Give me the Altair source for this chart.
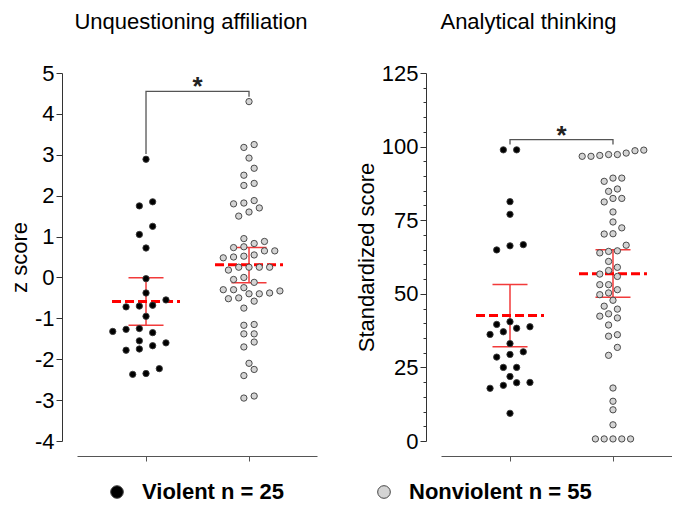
import altair as alt
import pandas as pd

# ---------------- data ----------------
groups = ["Violent n = 25", "Nonviolent n = 55"]
group_pos = [0, 1]
bracket_x = [0, 0, 1, 1]

# Unquestioning affiliation (z score)
ua_violent = [2.89, 1.85, 1.75, 1.25, 1.05, 0.72, -0.03, -0.38, -0.55, -0.70,
              -0.72, -0.68, -0.95, -1.25, -1.27, -1.32, -1.35, -1.55, -1.60,
              -1.67, -1.75, -1.78, -2.23, -2.35, -2.37]
ua_nonviolent = [4.30, 3.25, 3.18, 2.92, 2.67, 2.50, 2.30, 2.25, 1.88, 1.82,
                 1.80, 1.70, 1.60, 1.50, 0.95, 0.88, 0.83, 0.75, 0.73, 0.65,
                 0.65, 0.55, 0.52, 0.50, 0.48, 0.25, 0.25, 0.25, 0.25, 0.18,
                 0.00, -0.05, -0.12, -0.25, -0.30, -0.30, -0.33, -0.38, -0.40,
                 -0.40, -0.50, -0.52, -0.58, -0.75, -1.15, -1.17, -1.38, -1.38,
                 -1.58, -1.70, -2.10, -2.25, -2.40, -2.90, -2.95]
ua_mean = [-0.59, 0.31]
ua_low = [-1.17, -0.13]
ua_high = [-0.01, 0.73]
ua_bracket = [3.02, 4.55, 4.55, 4.42]

# Analytical thinking (standardized score)
at_violent = [98.9, 98.9, 81.3, 77.0, 66.7, 66.3, 64.9, 40.5, 39.6, 38.8, 38.3,
              37.1, 36.2, 33.1, 30.3, 29.4, 28.5, 25.0, 25.0, 21.9, 19.9, 19.8,
              18.9, 17.9, 9.4]
at_nonviolent = [98.8, 98.6, 97.8, 97.3, 97.3, 97.0, 96.7, 96.7, 89.3, 89.3,
                 88.2, 85.6, 84.8, 82.4, 82.4, 81.2, 77.8, 74.4, 72.4, 70.4,
                 70.3, 66.5, 64.6, 64.4, 63.9, 61.0, 59.0, 57.9, 56.7, 55.9,
                 53.1, 53.1, 51.4, 50.3, 49.7, 47.8, 45.8, 44.8, 43.2, 42.4,
                 41.8, 39.4, 36.1, 35.6, 31.8, 29.1, 18.0, 13.5, 10.6, 5.5,
                 0.7, 0.7, 0.7, 0.7, 0.7]
at_mean = [42.6, 56.8]
at_low = [32.0, 48.8]
at_high = [53.2, 65.0]
at_bracket = [100.7, 102.4, 102.4, 100.7]

# ---------------- style / layout ----------------
PLOT_H = 368
X_PX = 103.0          # pixels per x unit (distance between the two groups)
DOT_D = 8.3           # collision diameter in px
RED = "#ff0000"
ERR_RED = "#f23a3a"
AXC = "#333333"
FONT = "Liberation Sans"


def swarm(values, px_per_unit, step_px, diam_px=DOT_D):
    """Prism-like row swarm: rows of close values, centred, shifted on collision."""
    n = len(values)
    order = sorted(range(n), key=lambda i: values[i])
    ypx = [v * px_per_unit for v in values]
    xoff = [0.0] * n
    placed = []
    i = 0
    half = step_px / 2.0
    while i < n:
        start = ypx[order[i]]
        row = [order[i]]
        j = i + 1
        while j < n and ypx[order[j]] - start < diam_px:
            row.append(order[j])
            j += 1
        m = len(row)
        base = [(k - (m - 1) / 2.0) * step_px for k in range(m)]
        xs = base
        for s in [0, 1, -1, 2, -2, 3, -3, 4, -4, 5, -5]:
            xs = [b + s * half for b in base]
            ok = all(((x - px) ** 2 + (ypx[r] - py) ** 2) >= (diam_px - 0.3) ** 2
                     for x, r in zip(xs, row) for (px, py) in placed)
            if ok:
                break
        for x, r in zip(xs, row):
            xoff[r] = x
            placed.append((x, ypx[r]))
        i = j
    return xoff


legend = alt.Legend(
    title=None, orient="none", legendX=29, legendY=408, direction="horizontal",
    symbolType="circle", symbolSize=160, symbolStrokeColor="#444444",
    symbolStrokeWidth=1, labelFontSize=22, labelFontWeight="bold",
    labelColor="black", labelOffset=14, columnPadding=88, labelLimit=400,
    labelFont=FONT,
)
fill_scale = alt.Scale(domain=groups, range=["#000000", "#d4d4d4"])


def make_panel(title, title_dx, vals, steps, means, lows, highs, bracket,
               ydomain, yaxis, width, xmax):
    ppu = PLOT_H / (ydomain[1] - ydomain[0])
    rows = []
    for g, name, vs, step in zip(group_pos, groups, vals, steps):
        offs = swarm(vs, ppu, step)
        for v, o in zip(vs, offs):
            rows.append({"group": name, "x": g + o / X_PX, "value": v})
    pts = pd.DataFrame(rows)
    stats = pd.DataFrame({"group": groups, "g": group_pos, "mean": means,
                          "low": lows, "high": highs})
    br = pd.DataFrame({"x": bracket_x, "value": bracket, "order": list(range(4))})
    star = pd.DataFrame({"x": [0.5], "value": [bracket[1]], "label": ["*"]})

    xscale = alt.Scale(domain=[-0.67, xmax], nice=False, zero=False)
    yscale = alt.Scale(domain=ydomain, nice=False, zero=False)
    xaxis = alt.Axis(values=[0, 1], labels=False, title=None, grid=False,
                     ticks=True, tickSize=5, offset=15, domainColor="#555555",
                     tickColor="#555555", domainWidth=1, tickWidth=1)

    def X(f):
        return alt.X(f, scale=xscale, axis=xaxis)

    def Y(f):
        return alt.Y(f, scale=yscale, axis=yaxis)

    base = alt.Chart(stats).transform_calculate(
        cl="datum.g - 0.17", cr="datum.g + 0.17",
        ml="datum.g - 0.33", mr="datum.g + 0.33")

    err = base.mark_rule(color=ERR_RED, strokeWidth=1.5).encode(
        x=X("g:Q"), y=Y("low:Q"), y2="high:Q")
    cap_lo = base.mark_rule(color=ERR_RED, strokeWidth=1.5).encode(
        x=X("cl:Q"), x2="cr:Q", y=Y("low:Q"))
    cap_hi = base.mark_rule(color=ERR_RED, strokeWidth=1.5).encode(
        x=X("cl:Q"), x2="cr:Q", y=Y("high:Q"))
    mean = base.mark_rule(color=RED, strokeWidth=3, strokeDash=[9, 4]).encode(
        x=X("ml:Q"), x2="mr:Q", y=Y("mean:Q"))

    br_line = alt.Chart(br).mark_line(color="#555555", strokeWidth=1.3).encode(
        x=X("x:Q"), y=Y("value:Q"), order="order:Q")
    star_txt = alt.Chart(star).mark_text(
        fontSize=26, fontWeight="bold", baseline="alphabetic", dy=4,
        color="#222222", font=FONT).encode(
        x=X("x:Q"), y=Y("value:Q"), text="label:N")

    points = alt.Chart(pts).mark_circle(
        size=40, opacity=1, stroke="#3a3a3a", strokeWidth=0.9).encode(
        x=X("x:Q"), y=Y("value:Q"),
        fill=alt.Fill("group:N", scale=fill_scale, legend=legend))

    return alt.layer(err, cap_lo, cap_hi, mean, br_line, star_txt, points).properties(
        width=width, height=PLOT_H,
        title=alt.TitleParams(title, fontSize=22, fontWeight="normal",
                              anchor="middle", offset=28, dx=title_dx,
                              color="black", font=FONT))


ua_axis = alt.Axis(values=list(range(-4, 6)), labelExpr="'' + datum.value",
                   title="z score", grid=False, offset=15, tickSize=6,
                   labelPadding=2, titlePadding=3, labelFontSize=22,
                   titleFontSize=22, titleFontWeight="normal",
                   domainColor=AXC, tickColor=AXC, labelColor="black",
                   titleColor="black", labelFont=FONT, titleFont=FONT,
                   labelOverlap=False)
at_axis = alt.Axis(values=list(range(0, 126, 5)),
                   labelExpr="datum.value % 25 === 0 ? '' + datum.value : ''",
                   tickSize={"condition": {"test": "datum.value % 25 === 0", "value": 6},
                             "value": 3},
                   title="Standardized score", grid=False, offset=15,
                   labelPadding=2, titlePadding=3, labelFontSize=22,
                   titleFontSize=22, titleFontWeight="normal",
                   domainColor=AXC, tickColor=AXC, labelColor="black",
                   titleColor="black", labelFont=FONT, titleFont=FONT,
                   labelOverlap=False)

left = make_panel("Unquestioning affiliation", -6,
                  [ua_violent, ua_nonviolent], [13.3, 10.3],
                  ua_mean, ua_low, ua_high, ua_bracket,
                  [-4, 5], ua_axis, 240, 1.66)
right = make_panel("Analytical thinking", -28,
                   [at_violent, at_nonviolent], [13.3, 8.8],
                   at_mean, at_low, at_high, at_bracket,
                   [0, 125], at_axis, 231, 1.573)

chart = alt.hconcat(left, right, spacing=38).properties(
    padding={"left": 0, "top": 3, "right": 0, "bottom": 0}).configure(
    font=FONT).configure_view(stroke=None)

chart.save("out.html", embed_options={"renderer": "svg", "actions": False})
